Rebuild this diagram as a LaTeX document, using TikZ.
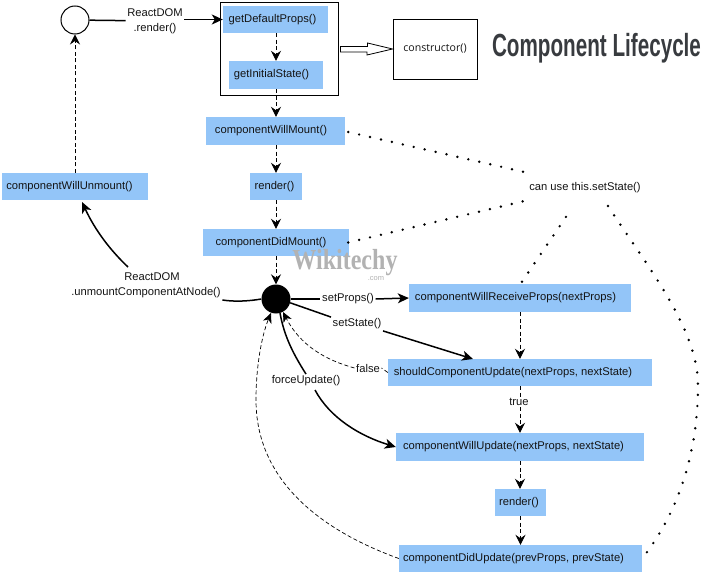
\documentclass[tikz,border=0pt]{standalone}
\usepackage{fontspec}
\setmainfont{Liberation Sans}
\newfontfamily\ctorfont{Open Sans}
\newfontfamily\wmfont{Liberation Serif}
\usetikzlibrary{arrows.meta,calc}
\definecolor{boxblue}{HTML}{93C5F8}
\definecolor{titlegray}{HTML}{383B3F}
\newcommand\lft[2]{#2\kern#1pt}
\tikzset{
  x=1pt,y=-1pt,
  every node/.style={font=\fontsize{11.2}{15}\selectfont,text=black!92},
  bluebox/.style={fill=boxblue,inner sep=0pt},
  lbl/.style={inner sep=1.5pt,align=center},
  solidarrow/.style={line width=1.5pt,-{Stealth[inset=3pt,length=11pt,width=10pt]}},
  solidline/.style={line width=1.5pt},
  dasharrow/.style={line width=.9pt,dash pattern=on 4pt off 2.5pt,-{Stealth[inset=3.5pt,length=10pt,width=10pt]}},
  thinreturn/.style={line width=.7pt,dash pattern=on 4pt off 2.5pt,-{Stealth[inset=3pt,length=10pt,width=9pt]}},
  dotline/.style={line width=2.7pt,line cap=round,dash pattern=on 0pt off 11.2pt},
}
\begin{document}
\begin{tikzpicture}
\useasboundingbox (0,0) rectangle (713,578);
% boxes
\node[draw=black,line width=1pt,fill=white,minimum width=118pt,minimum height=93pt,inner sep=0pt] (outer) at (279,49.5) {};
\node[bluebox,minimum width=105pt,minimum height=27pt] (gdp) at (275.5,19.5) {\lft{6}{getDefaultProps()}};
\node[bluebox,minimum width=94pt,minimum height=28pt] (gis) at (276,75) {\lft{9}{getInitialState()}};
\node[bluebox,minimum width=139pt,minimum height=28pt] (cwm) at (275.5,131) {\lft{9}{componentWillMount()}};
\node[bluebox,minimum width=52pt,minimum height=27pt] (r1) at (276,186.5) {\lft{3}{render()}};
\node[bluebox,minimum width=146pt,minimum height=27pt] (cdm) at (276,242.5) {\lft{10}{componentDidMount()}};
\node[bluebox,minimum width=146pt,minimum height=27pt] (cwu) at (75,186.5) {\lft{11}{componentWillUnmount()}};
\node[bluebox,minimum width=222pt,minimum height=28pt] (crp) at (520,298) {\lft{9}{componentWillReceiveProps(nextProps)}};
\node[bluebox,minimum width=264pt,minimum height=27pt] (scu) at (520,372.5) {\lft{14}{shouldComponentUpdate(nextProps, nextState)}};
\node[bluebox,minimum width=248pt,minimum height=28pt] (cwup) at (520,447) {\lft{13}{componentWillUpdate(nextProps, nextState)}};
\node[bluebox,minimum width=51pt,minimum height=27pt] (r2) at (520.5,502.5) {\lft{3}{render()}};
\node[bluebox,minimum width=243pt,minimum height=27pt] (cdu) at (520.5,558.5) {\lft{14}{componentDidUpdate(prevProps, prevState)}};
\node[draw=black,line width=.9pt,minimum width=84pt,minimum height=60pt,inner sep=0pt,font=\ctorfont\fontsize{10.6}{13}\selectfont] (ctor) at (435,49) {constructor()};
\node[inner sep=0pt,text=titlegray] (title) at (596.5,48.5) {\resizebox{209pt}{\height}{\bfseries\fontsize{32}{32}\selectfont Component Lifecycle}};
% watermark
\node[inner sep=0pt,anchor=base,text=black!30] (wm) at (345,269) {\wmfont\bfseries\fontsize{29}{29}\selectfont\resizebox{105pt}{\height}{Wikitechy}};
\node[inner sep=0pt,text=black!30] (wmc) at (376,279) {\fontsize{7.5}{7.5}\selectfont .com};
% circles
\node[circle,draw=black,line width=1pt,fill=white,minimum size=28pt,inner sep=0pt] (start) at (75,20) {};
\node[circle,fill=black,minimum size=29pt,inner sep=0pt] (hub) at (276,299) {};
% labels
\node[lbl,fill=white] (lrender) at (155,21) {ReactDOM\\.render()};
\node[lbl] (lunmount) at (146,285.5) {\hspace*{12pt}ReactDOM\\.unmountComponentAtNode()};
\node[lbl] (lprops) at (348,299) {setProps()};
\node[lbl] (lstate) at (357,324) {setState()};
\node[lbl] (lfalse) at (368,368) {false};
\node[lbl] (lforce) at (306,381) {forceUpdate()};
\node[lbl] (ltrue) at (519,402) {true};
\node[lbl] (lcan) at (585,187.5) {can use this.setState()};
% free ends
\coordinate (d1) at (533,174);
\coordinate (d2) at (533,199);
\coordinate (d3) at (572,208);
\coordinate (d4) at (608,206);
% connectors
\draw[solidline] (start) -- (lrender);
\draw[solidarrow] (lrender.east |- gdp.west) -- (gdp.west);
\draw[dasharrow] (cwu.north) -- (start.south);
\draw[dasharrow] (gdp.south -| gis.north) -- (gis.north);
\draw[dasharrow] (gis.south) -- (cwm.north -| gis.south);
\draw[dasharrow] (cwm.south -| r1.north) -- (r1.north);
\draw[dasharrow] (r1.south) -- (cdm.north);
\draw[dasharrow] (cdm.south) -- (hub.north);
\draw[dasharrow] (crp.south) -- (scu.north);
\draw[line width=.9pt,dash pattern=on 4pt off 2.5pt] (scu.south) -- (ltrue.north -| scu.south);
\draw[dasharrow] (ltrue.south -| cwup.north) -- (cwup.north);
\draw[dasharrow] (cwup.south) -- (r2.north -| cwup.south);
\draw[dasharrow] (r2.south) -- (cdu.north);
% hollow arrow
\draw[line width=.8pt,fill=white] ($(outer.east)+(2,-3)$) -- ++(27,0) -- ++(0,-3.5) -- (ctor.west) -- (367,55) -- (367,52) -- ($(outer.east)+(2,2.5)$) -- cycle;
% thick
\draw[solidline] (lunmount.east |- hub.west) ++(0,1) .. controls (235,302) and (250,301) .. (hub.west);
\draw[solidarrow] (128,267) .. controls (110,250) and (95,230) .. (82,202);
\draw[solidline] (hub.east) -- (lprops.west);
\draw[solidarrow] (lprops.east) -- (crp.west);
\draw[solidline] (hub.-15) -- (lstate.north west);
\draw[solidarrow] (lstate.south east) -- (473,359);
\draw[solidline] (280,313) .. controls (284,335) and (292,352) .. (lforce.north);
\draw[solidarrow] (315,390) .. controls (330,418) and (360,436) .. (cwup.west);
% thin dashed
\draw[line width=.7pt,dash pattern=on 4pt off 2.5pt] (scu.west) -- (lfalse.east);
\draw[thinreturn] (lfalse.west) .. controls (325,360) and (300,345) .. (283,312);
\draw[thinreturn] (cdu.west) .. controls (320,530) and (256,480) .. (256,400) .. controls (256,365) and (262,335) .. (271,313);
% dotted
\draw[dotline] (cwm.east) ++(3,1) -- (d1);
\draw[dotline] (cdm.east) ++(-1,0) -- (d2);
\draw[dotline] (crp.north) ++(2,-2) -- (d3);
\draw[dotline] (d4) .. controls (650,270) and (698,330) .. (698,385) .. controls (698,450) and (680,510) .. (cdu.east);
\end{tikzpicture}
\end{document}
